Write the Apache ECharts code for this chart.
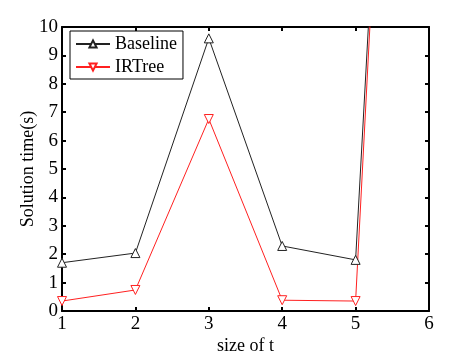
<!DOCTYPE html>
<html><head><meta charset="utf-8">
<script src="https://cdn.jsdelivr.net/npm/echarts@6/dist/echarts.min.js"></script>
<style>html,body{margin:0;padding:0;background:#fff}#c{width:474px;height:355px}</style>
</head><body><div id="c"></div>
<script>
var sizes = [1, 2, 3, 4, 5, 6];
var baseline = [1.7, 2.04, 9.6, 2.29, 1.8, 49];
var irtree = [0.35, 0.74, 6.76, 0.38, 0.35, 50];
var xTicks = [1, 2, 3, 4, 5, 6];
var yTicks = [0, 1, 2, 3, 4, 5, 6, 7, 8, 9, 10];

var font = 'Liberation Serif';
function pairs(v){ return sizes.map(function(s,i){ return [s, v[i]]; }); }
var chart = echarts.init(document.getElementById('c'), null, {renderer:'canvas'});
var axLine = {show:true, onZero:false, lineStyle:{color:'#000', width:2}};
var tick = {show:true, inside:true, length:4, lineStyle:{color:'#000', width:2}};
chart.setOption({
  animation:false,
  backgroundColor:'#fff',
  grid:{left:62, right:45, top:27, bottom:44, outerBoundsMode:'none', containLabel:false},
  legend:{
    left:70, top:31, orient:'vertical', itemGap:5,
    itemWidth:34, itemHeight:9,
    padding:[4,6,3,5],
    borderColor:'#000', borderWidth:1, backgroundColor:'#fff',
    textStyle:{fontFamily:font, fontSize:18, color:'#000'},
    data:['Baseline','IRTree']
  },
  xAxis:[{
    type:'value', min:xTicks[0], max:xTicks[xTicks.length-1], interval:1,
    name:'size of t', nameLocation:'middle', nameGap:26, nameMoveOverlap:false,
    nameTextStyle:{fontFamily:font, fontSize:18, color:'#000', verticalAlign:'top'},
    axisLine:axLine, axisTick:tick, splitLine:{show:false},
    axisLabel:{fontFamily:font, fontSize:19, color:'#000', margin:4}
  },{
    type:'value', position:'top', min:xTicks[0], max:xTicks[xTicks.length-1], interval:1,
    axisLine:axLine, axisTick:tick, splitLine:{show:false}, axisLabel:{show:false}
  }],
  yAxis:[{
    type:'value', min:yTicks[0], max:yTicks[yTicks.length-1], interval:1,
    name:'Solution time(s)', nameLocation:'middle', nameGap:25, nameRotate:90, nameMoveOverlap:false,
    nameTextStyle:{fontFamily:font, fontSize:18, color:'#000'},
    axisLine:axLine, axisTick:tick, splitLine:{show:false},
    axisLabel:{fontFamily:font, fontSize:19, color:'#000', margin:4}
  },{
    type:'value', position:'right', min:yTicks[0], max:yTicks[yTicks.length-1], interval:1,
    axisLine:axLine, axisTick:tick, splitLine:{show:false}, axisLabel:{show:false}
  }],
  series:[{
    name:'Baseline', type:'line', data:pairs(baseline), clip:true,
    symbol:'triangle', symbolSize:9, showAllSymbol:true,
    lineStyle:{color:'#222', width:1},
    itemStyle:{color:'#fff', borderColor:'#222', borderWidth:1}
  },{
    name:'IRTree', type:'line', data:pairs(irtree), clip:true,
    symbol:'triangle', symbolRotate:180, symbolSize:9,
    lineStyle:{color:'#ff2020', width:1},
    itemStyle:{color:'#fff', borderColor:'#ff2020', borderWidth:1}
  }]
});
</script></body></html>
